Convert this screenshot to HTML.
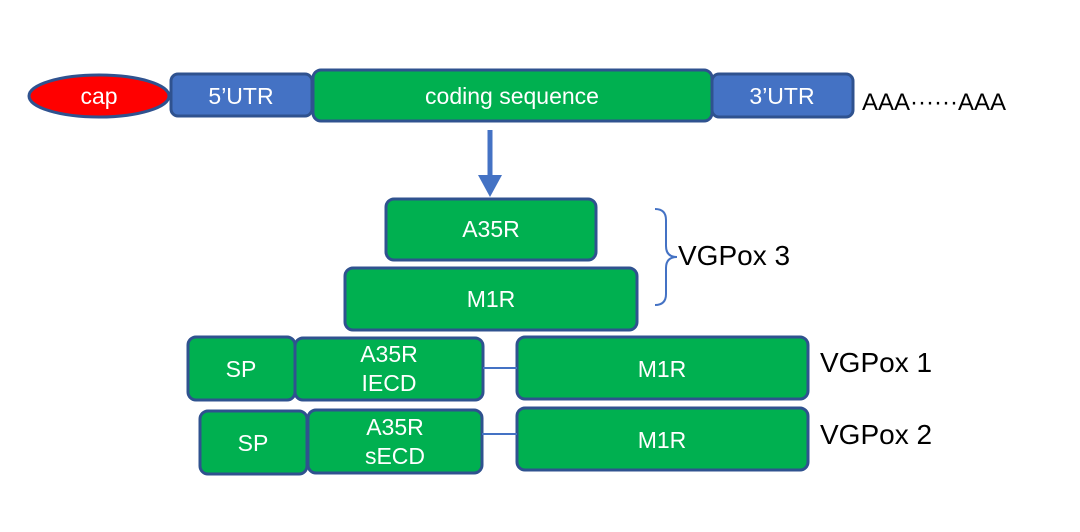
<!DOCTYPE html>
<html><head><style>
body{margin:0;width:1080px;height:527px;background:#fff;overflow:hidden;font-family:"Liberation Sans",sans-serif}
</style></head><body>
<svg width="1080" height="527" xmlns="http://www.w3.org/2000/svg" font-family="Liberation Sans, sans-serif">
<g stroke="#2f528f" stroke-width="3">
<ellipse cx="99" cy="96" rx="70" ry="21" fill="#ff0000"/>
<rect x="171" y="74" width="141" height="42" rx="7" fill="#4472c4"/>
<rect x="712" y="74" width="141" height="43" rx="7" fill="#4472c4"/>
<rect x="313" y="70" width="399" height="51" rx="8" fill="#00b050"/>
<rect x="386" y="199" width="210" height="61" rx="8" fill="#00b050"/>
<rect x="345" y="268" width="292" height="62" rx="8" fill="#00b050"/>
<rect x="188" y="337" width="107" height="63" rx="8" fill="#00b050"/>
<rect x="295" y="338" width="188" height="62" rx="8" fill="#00b050"/>
<rect x="517" y="337" width="291" height="62" rx="8" fill="#00b050"/>
<rect x="200" y="411" width="107" height="63" rx="8" fill="#00b050"/>
<rect x="308" y="410" width="174" height="63" rx="8" fill="#00b050"/>
<rect x="517" y="408" width="291" height="62" rx="8" fill="#00b050"/>
</g>
<g stroke="#4472c4" stroke-width="2" fill="none">
<line x1="483" y1="368" x2="517" y2="368"/>
<line x1="482" y1="434" x2="517" y2="434"/>
<path d="M655 209 Q666 209 666 220 L666 246 Q666 257 677 257 Q666 257 666 268 L666 294 Q666 305 655 305"/>
</g>
<line x1="490" y1="130" x2="490" y2="178" stroke="#4472c4" stroke-width="5"/>
<polygon points="478,175 502,175 490,197" fill="#4472c4"/>
<g fill="#fff" font-size="23" text-anchor="middle">
<text x="99" y="104">cap</text>
<text x="241" y="104">5’UTR</text>
<text x="512" y="104">coding sequence</text>
<text x="782" y="104">3’UTR</text>
<text x="491" y="237">A35R</text>
<text x="491" y="307">M1R</text>
<text x="241" y="377">SP</text>
<text x="389" y="362">A35R</text>
<text x="389" y="391">IECD</text>
<text x="662" y="377">M1R</text>
<text x="253" y="451">SP</text>
<text x="395" y="435">A35R</text>
<text x="395" y="464">sECD</text>
<text x="662" y="448">M1R</text>
</g>
<g fill="#000">
<text x="862" y="110" font-size="24">AAA······AAA</text>
<text x="678" y="265" font-size="28">VGPox 3</text>
<text x="820" y="372" font-size="28">VGPox 1</text>
<text x="820" y="444" font-size="28">VGPox 2</text>
</g>
</svg>
</body></html>
